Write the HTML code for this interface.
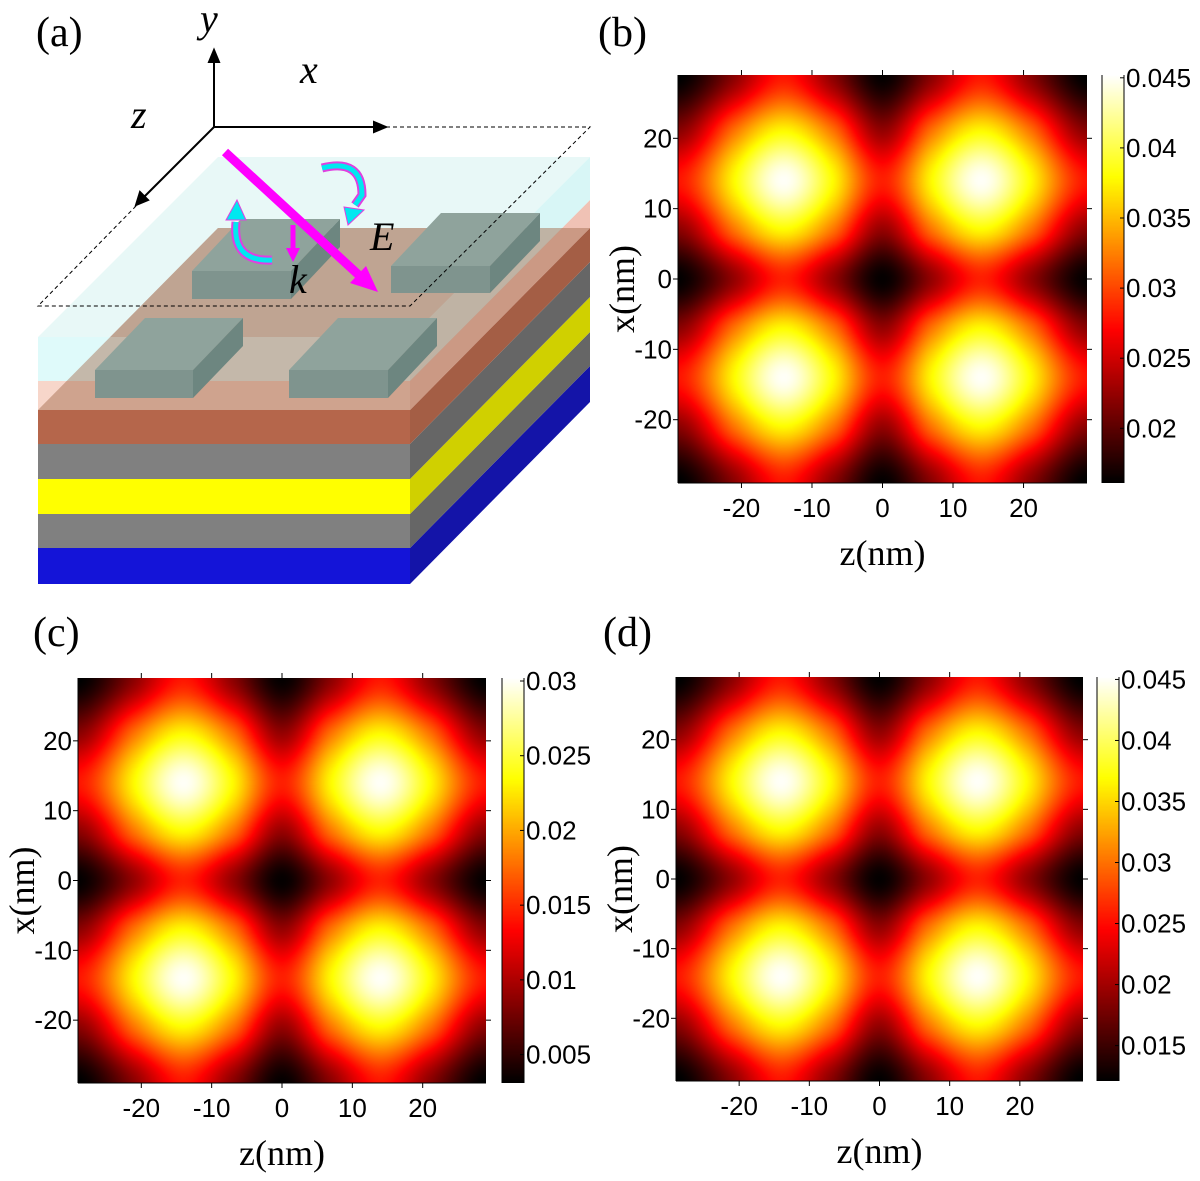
<!DOCTYPE html>
<html><head><meta charset="utf-8"><style>
html,body{margin:0;padding:0;background:#fff;width:1200px;height:1181px;overflow:hidden}
#wrap{position:relative;width:1200px;height:1181px}
canvas{position:absolute}
svg{position:absolute;left:0;top:0}
</style></head><body>
<div id="wrap">
<svg id="schem" width="600" height="600">
  <text x="36" y="46" font-family="Liberation Serif" font-size="42">(a)</text>
  <g>
    <polygon points="410,548 590,366 590,402 410,584" fill="#1414a8"/>
    <rect x="38" y="548" width="372" height="36" fill="#1414d8"/>
    <polygon points="410,514 590,332 590,366 410,548" fill="#666"/>
    <rect x="38" y="514" width="372" height="34" fill="#808080"/>
    <polygon points="410,479 590,297 590,332 410,514" fill="#d0d000"/>
    <rect x="38" y="479" width="372" height="35" fill="#ffff00"/>
    <polygon points="410,444 590,262 590,297 410,479" fill="#666"/>
    <rect x="38" y="444" width="372" height="35" fill="#808080"/>
    <polygon points="410,410 590,228 590,262 410,444" fill="#a45e45"/>
    <rect x="38" y="410" width="372" height="34" fill="#b5664b"/>
    <polygon points="38,410 410,410 590,228 218,228" fill="#c0806a"/>
    <polygon points="38,381 410,381 410,410 38,410" fill="#f4c4b4" opacity="0.7"/>
    <polygon points="410,381 590,200 590,228 410,410" fill="#e9a896" opacity="0.7"/>
    <polygon points="38,337 410,337 410,381 38,381" fill="#d4f8f8" opacity="0.75"/>
    <polygon points="410,337 590,157 590,200 410,381" fill="#c8f2f2" opacity="0.7"/>
    <polygon points="38,337 410,337 590,157 218,157" fill="#cdf0ee" opacity="0.45"/>
    <polygon points="38,410 410,410 590,228 218,228" fill="#b99680" opacity="0.5"/>
  </g>
  <g>
    <polygon points="192,271 291,271 340,219 241,219" fill="#8fa39c"/><polygon points="291,271 340,219 340,247 291,299" fill="#6d8680"/><rect x="192" y="271" width="99" height="28" fill="#7f948e"/>
    <polygon points="391,266 490,266 540,213 441,213" fill="#8fa39c"/><polygon points="490,266 540,213 540,241 490,293" fill="#6d8680"/><rect x="391" y="266" width="99" height="27" fill="#7f948e"/>
    <polygon points="95,370 193,370 243,318 145,318" fill="#8fa39c"/><polygon points="193,370 243,318 243,346 193,398" fill="#6d8680"/><rect x="95" y="370" width="98" height="28" fill="#7f948e"/>
    <polygon points="289,370 388,370 437,318 338,318" fill="#8fa39c"/><polygon points="388,370 437,318 437,346 388,398" fill="#6d8680"/><rect x="289" y="370" width="99" height="28" fill="#7f948e"/>
  </g>
  <g stroke="#000" stroke-width="2" fill="none">
    <line x1="214" y1="127" x2="214" y2="58"/><polygon points="214,50 209,62 219,62" fill="#000"/>
    <line x1="214" y1="127" x2="376" y2="127"/><polygon points="386,127 374,122 374,132" fill="#000"/>
    <line x1="214" y1="127" x2="142" y2="199"/><polygon points="136,205 140,192 148,200" fill="#000"/>
    <polyline points="386,127 590,127 410,306 38,306 137,205" stroke-width="1" stroke-dasharray="4,3"/>
  </g>
  <text x="200" y="32" font-family="Liberation Serif" font-style="italic" font-size="40">y</text>
  <text x="300" y="83" font-family="Liberation Serif" font-style="italic" font-size="40">x</text>
  <text x="131" y="128" font-family="Liberation Serif" font-style="italic" font-size="40">z</text>
  <g>
    <line x1="225" y1="152" x2="362" y2="278" stroke="#ff00ff" stroke-width="9"/>
    <polygon points="378,292 350,283 366,266" fill="#ff00ff"/>
    <line x1="293" y1="225" x2="293" y2="250" stroke="#ff00ff" stroke-width="5"/>
    <polygon points="293,262 286,248 300,248" fill="#ff00ff"/>
    <path d="M322,168 Q362,158 362,195 L355,205" fill="none" stroke="#e040e0" stroke-width="9"/>
    <path d="M322,168 Q362,158 362,195 L355,205" fill="none" stroke="#00e8f0" stroke-width="5"/>
    <polygon points="348,225 344,207 364,210" fill="#00e8f0" stroke="#e040e0" stroke-width="1"/>
    <path d="M272,260 Q232,262 236,222" fill="none" stroke="#e040e0" stroke-width="9"/>
    <path d="M272,260 Q232,262 236,222" fill="none" stroke="#00e8f0" stroke-width="5"/>
    <polygon points="237,200 226,220 246,220" fill="#00e8f0" stroke="#e040e0" stroke-width="1"/>
  </g>
  <text x="370" y="250" font-family="Liberation Serif" font-style="italic" font-size="40">E</text>
  <text x="289" y="293" font-family="Liberation Serif" font-style="italic" font-size="40">k</text>
</svg>
<svg id="charts" width="1200" height="1181"></svg>
</div>
<script>
const zGrid=[-28,-21,-14,-7,0,7,14,21,28];
const xGrid=[-28,-21,-14,-7,0,7,14,21,28];
const axisTicks=[-20,-10,0,10,20];
const cbTicksB=[0.02,0.025,0.03,0.035,0.04,0.045];
const cbTicksC=[0.005,0.01,0.015,0.02,0.025,0.03];
const cbTicksD=[0.015,0.02,0.025,0.03,0.035,0.04,0.045];
const rangeB=[0.0161,0.0452];
const rangeC=[0.0031,0.0302];
const rangeD=[0.0121,0.0452];
const valuesB=[
[.0165,.0225,.0283,.0225,.0165,.0225,.0283,.0225,.0165],
[.0225,.0320,.0378,.0320,.0225,.0320,.0378,.0320,.0225],
[.0283,.0378,.0450,.0378,.0283,.0378,.0450,.0378,.0283],
[.0225,.0320,.0378,.0320,.0225,.0320,.0378,.0320,.0225],
[.0165,.0225,.0283,.0225,.0163,.0225,.0283,.0225,.0165],
[.0225,.0320,.0378,.0320,.0225,.0320,.0378,.0320,.0225],
[.0283,.0378,.0450,.0378,.0283,.0378,.0450,.0378,.0283],
[.0225,.0320,.0378,.0320,.0225,.0320,.0378,.0320,.0225],
[.0165,.0225,.0283,.0225,.0165,.0225,.0283,.0225,.0165]];
const valuesC=[
[.0035,.0091,.0145,.0091,.0035,.0091,.0145,.0091,.0035],
[.0091,.0179,.0233,.0179,.0091,.0179,.0233,.0179,.0091],
[.0145,.0233,.0300,.0233,.0145,.0233,.0300,.0233,.0145],
[.0091,.0179,.0233,.0179,.0091,.0179,.0233,.0179,.0091],
[.0035,.0091,.0145,.0091,.0033,.0091,.0145,.0091,.0035],
[.0091,.0179,.0233,.0179,.0091,.0179,.0233,.0179,.0091],
[.0145,.0233,.0300,.0233,.0145,.0233,.0300,.0233,.0145],
[.0091,.0179,.0233,.0179,.0091,.0179,.0233,.0179,.0091],
[.0035,.0091,.0145,.0091,.0035,.0091,.0145,.0091,.0035]];
const valuesD=[
[.0125,.0194,.0260,.0194,.0125,.0194,.0260,.0194,.0125],
[.0194,.0302,.0368,.0302,.0194,.0302,.0368,.0302,.0194],
[.0260,.0368,.0450,.0368,.0260,.0368,.0450,.0368,.0260],
[.0194,.0302,.0368,.0302,.0194,.0302,.0368,.0302,.0194],
[.0125,.0194,.0260,.0194,.0123,.0194,.0260,.0194,.0125],
[.0194,.0302,.0368,.0302,.0194,.0302,.0368,.0302,.0194],
[.0260,.0368,.0450,.0368,.0260,.0368,.0450,.0368,.0260],
[.0194,.0302,.0368,.0302,.0194,.0302,.0368,.0302,.0194],
[.0125,.0194,.0260,.0194,.0125,.0194,.0260,.0194,.0125]];

const NS='http://www.w3.org/2000/svg';
const svg=document.getElementById('charts');
const wrap=document.getElementById('wrap');
function hot(t){t=Math.max(0,Math.min(1,t));
  return [Math.min(1,t/0.375)*255, Math.max(0,Math.min(1,(t-0.375)/0.375))*255, Math.max(0,Math.min(1,(t-0.75)/0.25))*255];}
function cr(p0,p1,p2,p3,t){return 0.5*((2*p1)+(-p0+p2)*t+(2*p0-5*p1+4*p2-p3)*t*t+(-p0+3*p1-3*p2+p3)*t*t*t);}
function sample(vals,gx,gy){
  const n=vals.length;const cl=i=>Math.max(0,Math.min(n-1,i));
  const ix=Math.floor(gx),iy=Math.floor(gy),tx=gx-ix,ty=gy-iy;const rows=[];
  for(let j=-1;j<=2;j++){const r=vals[cl(iy+j)];rows.push(cr(r[cl(ix-1)],r[cl(ix)],r[cl(ix+1)],r[cl(ix+2)],tx));}
  return cr(rows[0],rows[1],rows[2],rows[3],ty);}
function txt(x,y,s,size,fam,anchor,name,extra){
  const t=document.createElementNS(NS,'text');
  t.setAttribute('x',x);t.setAttribute('y',y);t.setAttribute('font-size',size);
  t.setAttribute('font-family',fam);t.setAttribute('text-anchor',anchor||'start');
  if(extra)t.setAttribute('transform',extra);
  t.textContent=s;
  
  
  svg.appendChild(t);return t;}
function line(x1,y1,x2,y2,name){
  const l=document.createElementNS(NS,'line');
  l.setAttribute('x1',x1);l.setAttribute('y1',y1);l.setAttribute('x2',x2);l.setAttribute('y2',y2);
  l.setAttribute('stroke','#000');l.setAttribute('stroke-width','1');
  
  
  svg.appendChild(l);}
function panel(cfg,vals,range,cbTicks){
  const L=cfg.l,R=cfg.r,T=cfg.t,B=cfg.b,D0=-29,D1=29;
  const sx=z=>L+(z-D0)/(D1-D0)*(R-L);
  const sy=x=>B-(x-D0)/(D1-D0)*(B-T);
  const inv=(p,a,b)=>D0+(p-a)/(b-a)*(D1-D0);
  const W=R-L,H=B-T;
  const cv=document.createElement('canvas');cv.width=W;cv.height=H;
  cv.style.left=L+'px';cv.style.top=T+'px';
  
  
  wrap.insertBefore(cv,svg);
  const ctx=cv.getContext('2d');const img=ctx.createImageData(W,H);
  const step=zGrid[1]-zGrid[0];
  for(let py=0;py<H;py++){const xv=inv(B-py-0.5,B,T);
    const gy=(xv-xGrid[0])/step;
    for(let px=0;px<W;px++){const zv=D0+(px+0.5)/W*(D1-D0);
      const gx=(zv-zGrid[0])/step;
      const v=sample(vals,gx,gy);
      const c=hot((v-range[0])/(range[1]-range[0]));
      const k=(py*W+px)*4;img.data[k]=c[0];img.data[k+1]=c[1];img.data[k+2]=c[2];img.data[k+3]=255;}}
  ctx.putImageData(img,0,0);
  line(L,T,L,B,cfg.id+'-y-axis');line(L,B,R,B,cfg.id+'-x-axis');
  axisTicks.forEach(v=>{
    line(sx(v),B,sx(v),B+5,cfg.id+'-x-tick');line(sx(v),T,sx(v),T-5,cfg.id+'-x-tick-top');
    line(L,sy(v),L-5,sy(v),cfg.id+'-y-tick');line(R,sy(v),R+5,sy(v),cfg.id+'-y-tick-right');
    txt(sx(v),B+34,String(v),26,'Liberation Sans','middle',cfg.id+'-x-tick-label');
    txt(L-6,sy(v)+9,String(v),26,'Liberation Sans','end',cfg.id+'-y-tick-label');
  });
  txt((L+R)/2,B+82,'z(nm)',36,'Liberation Serif','middle',cfg.id+'-x-axis-title');
  const yx=L-44,yy=(T+B)/2+10;
  txt(yx,yy,'x(nm)',36,'Liberation Serif','middle',cfg.id+'-y-axis-title','rotate(-90 '+yx+' '+yy+')');
  const cbH=B-T,cbW=cfg.cbR-cfg.cbL;
  const cc=document.createElement('canvas');cc.width=cbW;cc.height=cbH;
  cc.style.left=cfg.cbL+'px';cc.style.top=T+'px';
  
  
  wrap.insertBefore(cc,svg);
  const c2=cc.getContext('2d');
  for(let i=0;i<cbH;i++){const c=hot(1-(i+0.5)/cbH);c2.fillStyle='rgb('+c.map(Math.round).join(',')+')';c2.fillRect(0,i,cbW,1);}
  const cy=v=>B-(v-range[0])/(range[1]-range[0])*cbH;
  line(cfg.cbL,T,cfg.cbL,B,cfg.id+'-colorbar-axis');line(cfg.cbR,T,cfg.cbR,B,cfg.id+'-colorbar-axis-right');
  cbTicks.forEach(v=>{
    line(cfg.cbR,cy(v),cfg.cbR-4,cy(v),cfg.id+'-colorbar-tick');
    txt(cfg.cbR+2,cy(v)+9,String(v),26,'Liberation Sans','start',cfg.id+'-colorbar-label');
  });
  txt(cfg.lx,cfg.ly,cfg.label,42,'Liberation Serif','start',cfg.id+'-panel-label');
}
panel({id:'panel-b',l:678,r:1087,t:75,b:483,cbL:1102,cbR:1124,lx:598,ly:46,label:'(b)'},valuesB,rangeB,cbTicksB);
panel({id:'panel-c',l:78,r:486,t:678,b:1083,cbL:502,cbR:524,lx:33,ly:646,label:'(c)'},valuesC,rangeC,cbTicksC);
panel({id:'panel-d',l:676,r:1083,t:677,b:1081,cbL:1097,cbR:1119,lx:603,ly:646,label:'(d)'},valuesD,rangeD,cbTicksD);
</script>
</body></html>
